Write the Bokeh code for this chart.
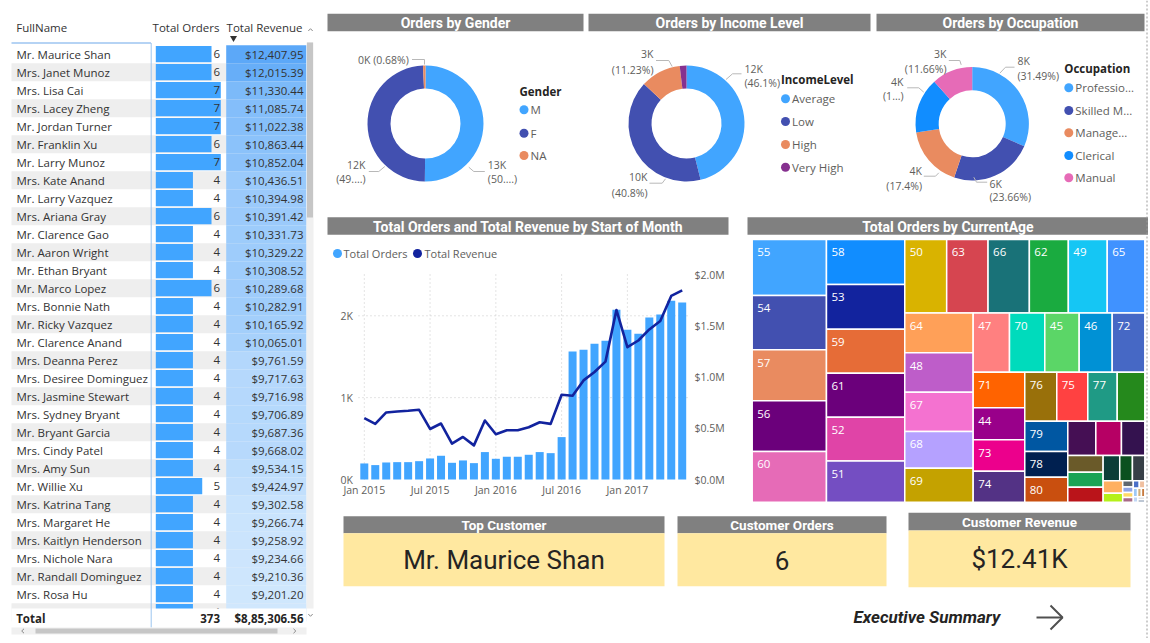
import math
from bokeh.plotting import figure
from bokeh.models import Range1d
from bokeh.core.properties import value
from bokeh.embed import file_html
from bokeh.resources import INLINE

# ------------------------------------------------------------------ DATA
customer_names = [
    "Mr. Maurice Shan", "Mrs. Janet Munoz", "Mrs. Lisa Cai", "Mrs. Lacey Zheng",
    "Mr. Jordan Turner", "Mr. Franklin Xu", "Mr. Larry Munoz", "Mrs. Kate Anand",
    "Mr. Larry Vazquez", "Mrs. Ariana Gray", "Mr. Clarence Gao", "Mr. Aaron Wright",
    "Mr. Ethan Bryant", "Mr. Marco Lopez", "Mrs. Bonnie Nath", "Mr. Ricky Vazquez",
    "Mr. Clarence Anand", "Mrs. Deanna Perez", "Mrs. Desiree Dominguez",
    "Mrs. Jasmine Stewart", "Mrs. Sydney Bryant", "Mr. Bryant Garcia",
    "Mrs. Cindy Patel", "Mrs. Amy Sun", "Mr. Willie Xu", "Mrs. Katrina Tang",
    "Mrs. Margaret He", "Mrs. Kaitlyn Henderson", "Mrs. Nichole Nara",
    "Mr. Randall Dominguez", "Mrs. Rosa Hu", "Adriana Gonzalez",
]
customer_orders = [6, 6, 7, 7, 7, 6, 7, 4, 4, 6, 4, 4, 4, 6, 4, 4,
                   4, 4, 4, 4, 4, 4, 4, 4, 5, 4, 4, 4, 4, 4, 4, 4]
customer_revenue = [12407.95, 12015.39, 11330.44, 11085.74, 11022.38, 10863.44,
                    10852.04, 10436.51, 10394.98, 10391.42, 10331.73, 10329.22,
                    10308.52, 10289.68, 10282.91, 10165.92, 10065.01, 9761.59,
                    9717.63, 9716.98, 9706.89, 9687.36, 9668.02, 9534.15,
                    9424.97, 9302.58, 9266.74, 9258.92, 9234.66, 9210.36,
                    9201.20, 9195.60]
table_total_orders = 373
table_total_revenue = 885306.56

gender_cats = ["M", "F", "NA"]
gender_orders = [12612, 12348, 171]

income_cats = ["Average", "Low", "High", "Very High"]
income_orders = [11585, 10253, 2822, 471]

occupation_cats = ["Professional", "Skilled Manual", "Management", "Clerical", "Manual"]
occupation_legend = ["Professio...", "Skilled M...", "Manage...", "Clerical", "Manual"]
occupation_orders = [7914, 5946, 4373, 3968, 2930]

month_labels = ["Jan 2015", "Feb 2015", "Mar 2015", "Apr 2015", "May 2015", "Jun 2015",
                "Jul 2015", "Aug 2015", "Sep 2015", "Oct 2015", "Nov 2015", "Dec 2015",
                "Jan 2016", "Feb 2016", "Mar 2016", "Apr 2016", "May 2016", "Jun 2016",
                "Jul 2016", "Aug 2016", "Sep 2016", "Oct 2016", "Nov 2016", "Dec 2016",
                "Jan 2017", "Feb 2017", "Mar 2017", "Apr 2017", "May 2017", "Jun 2017"]
monthly_orders = [196, 176, 208, 212, 212, 224, 257, 290, 204, 233, 200, 335,
                  253, 278, 278, 302, 335, 322, 518, 1563, 1584, 1657, 1694, 2073,
                  1829, 1780, 1980, 2016, 2184, 2163]
monthly_revenue = [598000, 543000, 654000, 663000, 670000, 680000, 493000, 546000,
                   350000, 415000, 333000, 575000, 441000, 480000, 480000, 510000,
                   559000, 543000, 827000, 817000, 967000, 1049000, 1150000, 1654000,
                   1291000, 1356000, 1464000, 1546000, 1791000, 1846000]
orders_ticks = [0, 1000, 2000]
orders_tick_labels = ["0K", "1K", "2K"]
revenue_ticks = [0, 500000, 1000000, 1500000, 2000000]
revenue_tick_labels = ["$0.0M", "$0.5M", "$1.0M", "$1.5M", "$2.0M"]
month_tick_index = [0, 6, 12, 18, 24]

age_groups = ["55", "54", "57", "56", "60", "58", "53", "59", "61", "52", "51",
              "50", "63", "66", "62", "49", "65", "64", "48", "67", "68", "69",
              "47", "70", "45", "46", "72", "71", "44", "73", "74", "76", "75",
              "77", "43", "79", "78", "80", "81", "42", "82", "83", "84", "41",
              "85", "86", "40", "87", "88", "89", "39", "90", "91", "38", "92",
              "93", "94", "37", "95", "96", "97"]
age_orders = [1013, 982, 922, 917, 915, 858, 852, 839, 838, 833, 787,
              749, 739, 738, 696, 695, 671, 666, 656, 654, 611, 566,
              525, 510, 497, 477, 471, 447, 402, 394, 389, 382, 370,
              351, 329, 317, 269, 262, 234, 214, 195, 144, 129, 128,
              102, 78, 76, 59, 43, 16, 14, 13, 12, 11, 10,
              9, 8, 7, 6, 5, 4]

# ------------------------------------------------------------------ STYLE
FONT = "Open Sans"
TFONT = "Roboto"
GREY_BAR = "#808080"
TXT = "#252423"
SUB = "#605E5C"
LIGHT_BLUE = "#41A5FF"
NAVY = "#12239E"
pal_gender = ["#41A5FF", "#4250B0", "#E98B60"]
pal_income = ["#41A5FF", "#4250B0", "#E98B60", "#86318F"]
pal_occ = ["#41A5FF", "#4250B0", "#E98B60", "#118DFF", "#E66BB7"]
age_colors = ["#41A5FF", "#4250B0", "#E98B60", "#6B007B", "#E66BB7", "#118DFF",
              "#12239E", "#E66C37", "#6B007B", "#E044A7", "#744EC2", "#D9B300",
              "#D64550", "#197278", "#1AAB40", "#15C6F4", "#4092FF", "#FFA058",
              "#BE5DC9", "#F472D0", "#B5A1FF", "#C4A200", "#FF8080", "#00DBBC",
              "#5BD667", "#0091D5", "#4668C5", "#FF6300", "#99008A", "#EC008C",
              "#533285", "#99700A", "#FF4141", "#1F9A85", "#25891C", "#0057A2",
              "#002050", "#C94F0F", "#450F54", "#B60064", "#34124F", "#6A5A29",
              "#1BA355", "#BA141A", "#0C3D37", "#0B511F", "#373F47", "#FFB060",
              "#B5F01A", "#5F6670", "#8FA3E6", "#FFD965", "#A86A86", "#4A6FC8",
              "#F0C0A0", "#9EC9F5", "#D2B07C", "#C77A3E", "#BFD6F5", "#E3E3E3",
              "#7A8FA8"]

W, H = 1148, 638
p = figure(width=W, height=H, x_range=Range1d(0, W), y_range=Range1d(H, 0),
           output_backend="svg", toolbar_location=None, min_border=0,
           x_axis_location=None, y_axis_location=None)
p.outline_line_color = None
p.background_fill_color = "white"
p.border_fill_color = "white"
p.xgrid.visible = False
p.ygrid.visible = False
p.grid.visible = False


def txt(g, x, y, s, size="11.5px", color=TXT, align="left", font=FONT, style="normal",
        baseline="middle"):
    xs = x if isinstance(x, list) else [x]
    ys = y if isinstance(y, list) else [y]
    ss = s if isinstance(s, list) else [s]
    n = max(len(xs), len(ys), len(ss))
    xs = xs * n if len(xs) == 1 else xs
    ys = ys * n if len(ys) == 1 else ys
    ss = ss * n if len(ss) == 1 else ss
    g.text(x=xs, y=ys, text=ss, text_font=value(font), text_font_size=size,
           text_color=color, text_align=align, text_baseline=baseline,
           text_font_style=style)


def title_bar(x0, x1, y0, y1, label, size="14px"):
    p.quad(left=[x0], right=[x1], top=[y0], bottom=[y1], fill_color=GREY_BAR, line_color=None)
    txt(p, (x0 + x1) / 2, (y0 + y1) / 2 + 0.5, label, size=size, color="white",
        align="center", font=TFONT, style="bold")


def indian(v):
    s = f"{v:.2f}"
    ip, dp = s.split(".")
    if len(ip) > 3:
        head, tail = ip[:-3], ip[-3:]
        groups = []
        while len(head) > 2:
            groups.insert(0, head[-2:])
            head = head[:-2]
        if head:
            groups.insert(0, head)
        ip = ",".join(groups) + "," + tail
    return "$" + ip + "." + dp


# ------------------------------------------------------------------ TABLE
ROW0, ROWH = 53.7, 18.0
rows = p.subplot(x_source=p.x_range, y_source=Range1d(0, 1),
                 x_target=p.x_range, y_target=Range1d(ROW0, ROW0 + ROWH))
bars = p.subplot(x_source=Range1d(0, 7), y_source=Range1d(0, 1),
                 x_target=Range1d(155.3, 220.3), y_target=Range1d(ROW0, ROW0 + ROWH))
n_rows = len(customer_names)
idx = list(range(n_rows))
odd = [i for i in idx if i % 2 == 1]
rows.quad(left=11, right=306, top=[i - 0.5 for i in odd], bottom=[i + 0.5 for i in odd],
          fill_color="#EEEEEE", line_color=None)

lo, hi = min(customer_revenue), max(customer_revenue)
c_lo, c_hi = (208, 231, 253), (92, 168, 248)


def rev_color(v):
    f = ((v - lo) / (hi - lo)) ** 0.8
    c = [round(a + (b - a) * f) for a, b in zip(c_lo, c_hi)]
    return "#%02X%02X%02X" % tuple(c)


rows.quad(left=225.7, right=306, top=[i - 0.5 for i in idx], bottom=[i + 0.5 for i in idx],
          fill_color=[rev_color(v) for v in customer_revenue], line_color=None)
bars.hbar(y=idx, left=0, right=customer_orders, height=0.9, fill_color=LIGHT_BLUE,
          line_color=None)
txt(rows, 16, idx, customer_names, color="#333333")
txt(rows, 219.5, idx, [str(o) for o in customer_orders], color="#333333", align="right")
txt(rows, 303, idx, ["$" + f"{v:,.2f}" for v in customer_revenue], color="#333333",
    align="right")

# header
txt(p, 15.7, 27.3, "FullName", color="#333333")
txt(p, 219, 27.3, "Total Orders", color="#333333", align="right")
txt(p, 302, 27.3, "Total Revenue", color="#333333", align="right")
p.scatter(x=[233], y=[37.5], marker="inverted_triangle", size=7, fill_color="#333333",
          line_color=None)

# total row
p.quad(left=[11], right=[306], top=[608], bottom=[627], fill_color="white", line_color=None)
txt(p, 15.7, 618.3, "Total", color=TXT, style="bold")
txt(p, 219.5, 618.3, str(table_total_orders), color=TXT, style="bold", align="right")
txt(p, 303, 618.3, indian(table_total_revenue), color=TXT, style="bold", align="right")

# separators
p.segment(x0=[11], y0=[42.5], x1=[150.5], y1=[42.5], line_color="#9CC5F0", line_width=1.5)
p.segment(x0=[150.7], y0=[42.5], x1=[150.7], y1=[627], line_color="#9CC5F0", line_width=1)

# scrollbars
p.quad(left=[306], right=[313], top=[42], bottom=[608], fill_color="#F0F0F0", line_color=None)
p.quad(left=[306.5], right=[312.5], top=[42], bottom=[217], fill_color="#C6C6C6", line_color=None)
p.quad(left=[11], right=[306], top=[627], bottom=[634], fill_color="#F0F0F0", line_color=None)
p.quad(left=[35], right=[277], top=[628], bottom=[633], fill_color="#C6C6C6", line_color=None)
p.multi_line(xs=[[307.8, 310, 312.2], [307.8, 310, 312.2], [23.5, 21.2, 23.5], [293, 295.3, 293]],
             ys=[[30.5, 28.2, 30.5], [613.5, 615.8, 613.5], [628.3, 630.5, 632.7],
                 [628.3, 630.5, 632.7]],
             line_color="#8A8A8A", line_width=1)

# ------------------------------------------------------------------ DONUTS


def fmt_pct(v, total):
    s = f"{100 * v / total:.2f}".rstrip("0").rstrip(".")
    return s


def donut(cx, cy, vals, colors, r_in=35, r_out=58):
    total = sum(vals)
    cum = 0
    starts, ends = [], []
    for v in vals:
        a0 = math.pi / 2 - 2 * math.pi * cum / total
        cum += v
        a1 = math.pi / 2 - 2 * math.pi * cum / total
        starts.append(a1)
        ends.append(a0)
    p.annular_wedge(x=cx, y=cy, inner_radius=r_in, outer_radius=r_out,
                    inner_radius_units="screen", outer_radius_units="screen",
                    start_angle=starts, end_angle=ends, fill_color=colors, line_color=None)


def donut_labels(vals, specs):
    total = sum(vals)
    xs, ys = [], []
    for i, spec in specs.items():
        v = vals[i]
        k = f"{round(v / 1000)}K"
        pct = fmt_pct(v, total)
        if spec.get("trunc") is not None:
            pct_s = "(" + pct[:spec["trunc"]] + "...)"
        else:
            pct_s = f"({pct}%)"
        x, y1, y2 = spec["pos"]
        if spec.get("single"):
            txt(p, x, y1, f"{k} {pct_s}", size="10.5px", color=SUB, align=spec["align"])
        else:
            txt(p, x, y1, k, size="10.5px", color=SUB, align=spec["align"])
            txt(p, x, y2, pct_s, size="10.5px", color=SUB, align=spec["align"])
        xs.append([q[0] for q in spec["lead"]])
        ys.append([q[1] for q in spec["lead"]])
    p.multi_line(xs=xs, ys=ys, line_color="#B8B8B8", line_width=1)


def legend(title, x, y_title, items, ys, colors):
    txt(p, x - 4.5, y_title, title, size="11.5px", color=TXT, style="bold")
    p.scatter(x=[x] * len(items), y=ys, size=9, fill_color=colors, line_color=None)
    txt(p, x + 6.5, ys, items, size="11.5px", color=SUB)


title_bar(327, 583, 13.3, 30.7, "Orders by Gender")
title_bar(588, 870, 13.3, 30.7, "Orders by Income Level")
title_bar(876, 1144, 13.3, 30.7, "Orders by Occupation")

donut(425, 123, gender_orders, pal_gender)
donut_labels(gender_orders, {
    0: {"pos": (487.3, 164.3, 178.3), "align": "left", "trunc": 3,
        "lead": [(468.3, 166.7), (473.3, 171), (484.3, 171)]},
    1: {"pos": (365, 164.3, 178.3), "align": "right", "trunc": 3,
        "lead": [(384.3, 166), (378.3, 171), (368.3, 171)]},
    2: {"pos": (408.3, 59, 59), "align": "right", "single": True,
        "lead": [(411.5, 59), (424, 59), (424, 64)]},
})
legend("Gender", 523.5, 91, gender_cats, [109.3, 132.7, 155], pal_gender)

donut(686, 123, income_orders, pal_income)
donut_labels(income_orders, {
    0: {"pos": (744, 68.3, 82), "align": "left",
        "lead": [(725.5, 79), (732, 73.3), (741, 73.3)]},
    1: {"pos": (647, 176.7, 192.7), "align": "right",
        "lead": [(665, 178.3), (661.7, 182.7), (649, 182.7)]},
    2: {"pos": (653, 53.3, 69.5), "align": "right",
        "lead": [(671.7, 66), (668.3, 60), (655.5, 60)]},
})
legend("IncomeLevel", 785, 79, income_cats, [98.3, 121, 144, 166.7], pal_income)

donut(971.7, 123.3, occupation_orders, pal_occ, r_in=33.5, r_out=56.7)
donut_labels(occupation_orders, {
    0: {"pos": (1017, 60, 75), "align": "left",
        "lead": [(999.3, 72.7), (1005, 66.7), (1014, 66.7)]},
    1: {"pos": (989, 183, 196.5), "align": "left",
        "lead": [(973.3, 176.7), (976, 181.7), (986.7, 181.7)]},
    2: {"pos": (921.5, 170, 185), "align": "right",
        "lead": [(938.3, 172.3), (935, 175.7), (923.3, 175.7)]},
    3: {"pos": (903, 81, 95), "align": "right", "trunc": 1,
        "lead": [(923.3, 91.7), (918.3, 87.3), (906.7, 87.3)]},
    4: {"pos": (946, 53.3, 68.3), "align": "right",
        "lead": [(960.7, 64.3), (959.3, 60), (948.3, 60)]},
})
legend("Occupation", 1068.3, 68.3, occupation_legend, [87.3, 110, 132.3, 155, 177.3], pal_occ)

# ------------------------------------------------------------------ LINE / BAR COMBO
title_bar(327, 728, 216.7, 234.3, "Total Orders and Total Revenue by Start of Month")
p.scatter(x=[337, 417], y=[253, 253], size=9, fill_color=[LIGHT_BLUE, NAVY], line_color=None)
txt(p, [343, 424], 253, ["Total Orders", "Total Revenue"], size="11px", color=SUB)

XT = Range1d(363.8, 681.7)
XS = Range1d(0, len(month_labels) - 1)
lc = p.subplot(x_source=XS, y_source=Range1d(0, 2000), x_target=XT, y_target=Range1d(479, 315.3))
lr = p.subplot(x_source=XS, y_source=Range1d(0, 2000000), x_target=XT, y_target=Range1d(479, 274))
lc_lab = p.subplot(x_source=p.x_range, y_source=Range1d(0, 2000), x_target=p.x_range,
                   y_target=Range1d(479, 315.3))
lr_lab = p.subplot(x_source=p.x_range, y_source=Range1d(0, 2000000), x_target=p.x_range,
                   y_target=Range1d(479, 274))
x_lab = p.subplot(x_source=XS, y_source=p.y_range, x_target=XT, y_target=p.y_range)

grid_y = [t for t in orders_ticks if t > 0]
lc.segment(x0=-0.53, x1=29.5, y0=grid_y, y1=grid_y, line_color="#C8C8C8", line_width=1,
           line_dash="1 3")
lr.segment(x0=month_tick_index, x1=month_tick_index, y0=0, y1=2000000, line_color="#C8C8C8",
           line_width=1, line_dash="1 3")
lc.vbar(x=list(range(len(monthly_orders))), top=monthly_orders, bottom=0, width=0.73,
        fill_color=LIGHT_BLUE, line_color=None)
lr.line(x=list(range(len(monthly_revenue))), y=monthly_revenue, line_color=NAVY, line_width=2.6,
        line_join="round")
txt(lc_lab, 352.5, orders_ticks, orders_tick_labels, size="10.5px", color=SUB, align="right")
txt(lr_lab, 694, revenue_ticks, revenue_tick_labels, size="10.5px", color=SUB)
txt(x_lab, month_tick_index, 489.5, [month_labels[i] for i in month_tick_index], size="10.5px",
    color=SUB, align="center")

# ------------------------------------------------------------------ TREEMAP
title_bar(747, 1148, 216.7, 234.3, "Total Orders by CurrentAge")


def squarify(vals, x0, y0, x1, y1, ratio=(1 + 5 ** 0.5) / 2):
    out = [None] * len(vals)
    n = len(vals)
    i0 = i1 = 0
    remaining = float(sum(vals))
    while i0 < n:
        dx, dy = x1 - x0, y1 - y0
        s = vals[i1]
        i1 += 1
        mn = mx = s
        alpha = max(dy / dx, dx / dy) / (remaining * ratio)
        beta = s * s * alpha
        best = max(mx / beta, beta / mn)
        while i1 < n:
            nv = vals[i1]
            s2 = s + nv
            mn2, mx2 = min(mn, nv), max(mx, nv)
            beta = s2 * s2 * alpha
            r = max(mx2 / beta, beta / mn2)
            if r > best:
                break
            s, mn, mx, best = s2, mn2, mx2, r
            i1 += 1
        if dx < dy:
            h = dy * s / remaining
            xx = x0
            for k in range(i0, i1):
                w = dx * vals[k] / s
                out[k] = (xx, y0, xx + w, y0 + h)
                xx += w
            y0 += h
        else:
            w = dx * s / remaining
            yy = y0
            for k in range(i0, i1):
                hh = dy * vals[k] / s
                out[k] = (x0, yy, x0 + w, yy + hh)
                yy += hh
            x0 += w
        remaining -= s
        i0 = i1
    return out


TMX0, TMX1, TMY0, TMY1 = 751.7, 1144.3, 239.0, 501.7
tw, th = TMX1 - TMX0, TMY1 - TMY0
cells = squarify(age_orders, 0, 0, tw, th)
tm = p.subplot(x_source=Range1d(0, tw), y_source=Range1d(0, th),
               x_target=Range1d(TMX0, TMX1), y_target=Range1d(TMY0, TMY1))
tm.quad(left=[c[0] for c in cells], right=[c[2] for c in cells],
        top=[c[1] for c in cells], bottom=[c[3] for c in cells],
        fill_color=age_colors[:len(cells)], line_color="white", line_width=1.5)
lab = [i for i, c in enumerate(cells) if (c[2] - c[0]) >= 28.8 and (c[3] - c[1]) >= 20]
txt(tm, [cells[i][0] + 5 for i in lab], [cells[i][1] + 12.8 for i in lab],
    [age_groups[i] for i in lab], size="11.5px", color="white")

# ------------------------------------------------------------------ CARDS
top_i = customer_revenue.index(max(customer_revenue))
cards = [
    (343, 664, 515.7, 532.7, 585.7, "Top Customer", customer_names[top_i]),
    (677, 886, 515.7, 532.7, 585.7, "Customer Orders", str(customer_orders[top_i])),
    (908, 1130, 512.3, 530, 586.7, "Customer Revenue", f"${customer_revenue[top_i] / 1000:.2f}K"),
]
for x0, x1, y0, ym, y1, ttl, val in cards:
    p.quad(left=[x0], right=[x1], top=[y0], bottom=[ym], fill_color=GREY_BAR, line_color=None)
    p.quad(left=[x0], right=[x1], top=[ym], bottom=[y1], fill_color="#FFE8A0", line_color=None)
    txt(p, (x0 + x1) / 2, (y0 + ym) / 2 + 0.5, ttl, size="13.5px", color="white",
        align="center", font=TFONT, style="bold")
    txt(p, (x0 + x1) / 2, (ym + y1) / 2 + 0.5, val, size="26px", color=TXT, align="center",
        font=TFONT)

txt(p, 853, 616.7, "Executive Summary", size="17px", color=TXT, font=TFONT, style="bold italic")
p.multi_line(xs=[[1036, 1062], [1050, 1062, 1050]], ys=[[617, 617], [605, 617, 629]],
             line_color="#505050", line_width=2)

p.segment(x0=[1146.5], y0=[0], x1=[1146.5], y1=[H], line_color="#9A9A9A", line_width=1,
          line_dash="2 2")

open("out.html", "w").write(file_html(p, INLINE))
